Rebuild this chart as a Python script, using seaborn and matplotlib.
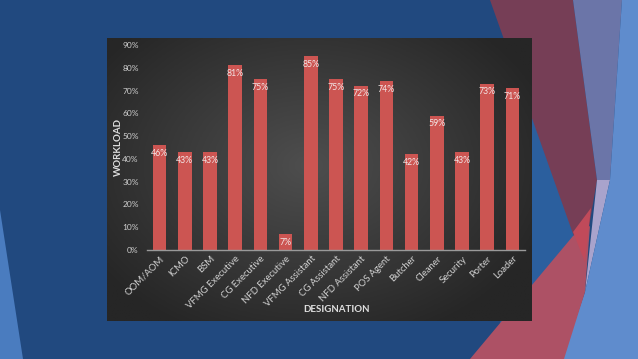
import numpy as np
import matplotlib.pyplot as plt
from matplotlib.patches import Polygon
from matplotlib.colors import LinearSegmentedColormap
import seaborn as sns

# Data
designations = ["OOM/AOM", "ICMO", "BSM", "VFMG Executive", "CG Executive",
                "NFD Executive", "VFMG Assistant", "CG Assistant", "NFD Assistant",
                "POS Agent", "Butcher", "Cleaner", "Security", "Porter", "Loader"]
workload = [0.46, 0.43, 0.43, 0.81, 0.75, 0.07, 0.85, 0.75, 0.72, 0.74,
            0.42, 0.59, 0.43, 0.73, 0.71]
y_ticks = [0.0, 0.1, 0.2, 0.3, 0.4, 0.5, 0.6, 0.7, 0.8, 0.9]

sns.set_style("white")
plt.rcParams['font.family'] = ['Lato', 'DejaVu Sans']

W, H = 638, 359
fig = plt.figure(figsize=(W / 100, H / 100), dpi=100)
fig.patch.set_facecolor("#21497f")


def px(pts):
    return [(x / W, 1 - y / H) for x, y in pts]


# Slide background shapes (behind the chart panel)
shapes = [
    ([(0, 210), (23, 359), (0, 359)], "#4a7cbf"),
    ([(505, 30), (560, 190), (585, 262), (500, 335)], "#2b5f9e"),
    ([(490, 0), (573, 0), (597, 180), (583, 262)], "#763e56"),
    ([(573, 0), (622, 0), (610, 180), (597, 180)], "#6b75a8"),
    ([(597, 180), (610, 180), (585, 292)], "#a9a3cc"),
    ([(622, 0), (638, 0), (638, 359), (562, 359), (585, 292), (610, 180)], "#5f8ccd"),
    ([(470, 359), (564, 359), (585, 292), (590, 226), (573, 236)], "#ad5165"),
    ([(573, 232), (591, 208), (585, 262)], "#c04a5a"),
]
for pts, col in shapes:
    fig.patches.append(Polygon(px(pts), closed=True, transform=fig.transFigure,
                               facecolor=col, edgecolor="none", zorder=-5))

# Chart panel with dark radial gradient
panel = fig.add_axes([107 / W, 1 - 321 / H, 425 / W, 283 / H])
gx, gy = np.meshgrid(np.linspace(-1, 1, 300), np.linspace(-1, 1, 200))
r = np.sqrt(((gx + 0.05) / 1.0) ** 2 + ((gy + 0.1) / 1.1) ** 2)
cmap = LinearSegmentedColormap.from_list("panel", ["#4e4e4e", "#3a3a3a", "#262626"])
panel.imshow(np.clip(r, 0, 1.2), cmap=cmap, aspect="auto", extent=[0, 1, 0, 1])
panel.set_axis_off()

# Bar chart
ax = fig.add_axes([147 / W, 1 - 250 / H, 378 / W, 205 / H])
ax.set_facecolor("none")
sns.barplot(x=designations, y=workload, color="#cc5552", width=0.54,
            saturation=1, linewidth=0, edgecolor="none", ax=ax)

ax.set_ylim(0, 0.9)
ax.set_yticks(y_ticks)
ax.set_yticklabels([f"{int(round(t * 100))}%" for t in y_ticks])
ax.tick_params(axis="y", length=0, pad=6, labelsize=6, labelcolor="#cfcfcf")
ax.tick_params(axis="x", length=0, pad=3, labelsize=6.8, labelcolor="#d2d2d2")
plt.setp(ax.get_xticklabels(), rotation=45, ha="right", rotation_mode="anchor")

for side in ["top", "right", "left"]:
    ax.spines[side].set_visible(False)
ax.spines["bottom"].set_color("#9a9a9a")
ax.spines["bottom"].set_linewidth(1.0)

ax.bar_label(ax.containers[0], labels=[f"{int(round(v * 100))}%" for v in workload],
             padding=-9, fontsize=6.3, color="#f2e6e6")

ax.set_xlabel("DESIGNATION", fontsize=7, fontweight="bold", color="#dedede")
ax.set_ylabel("WORKLOAD", fontsize=7, fontweight="bold", color="#dedede")
ax.xaxis.set_label_coords(0.5, -0.266)
ax.yaxis.set_label_coords(-0.064, 0.5)

fig.savefig("out.png", dpi=100, facecolor=fig.get_facecolor())
